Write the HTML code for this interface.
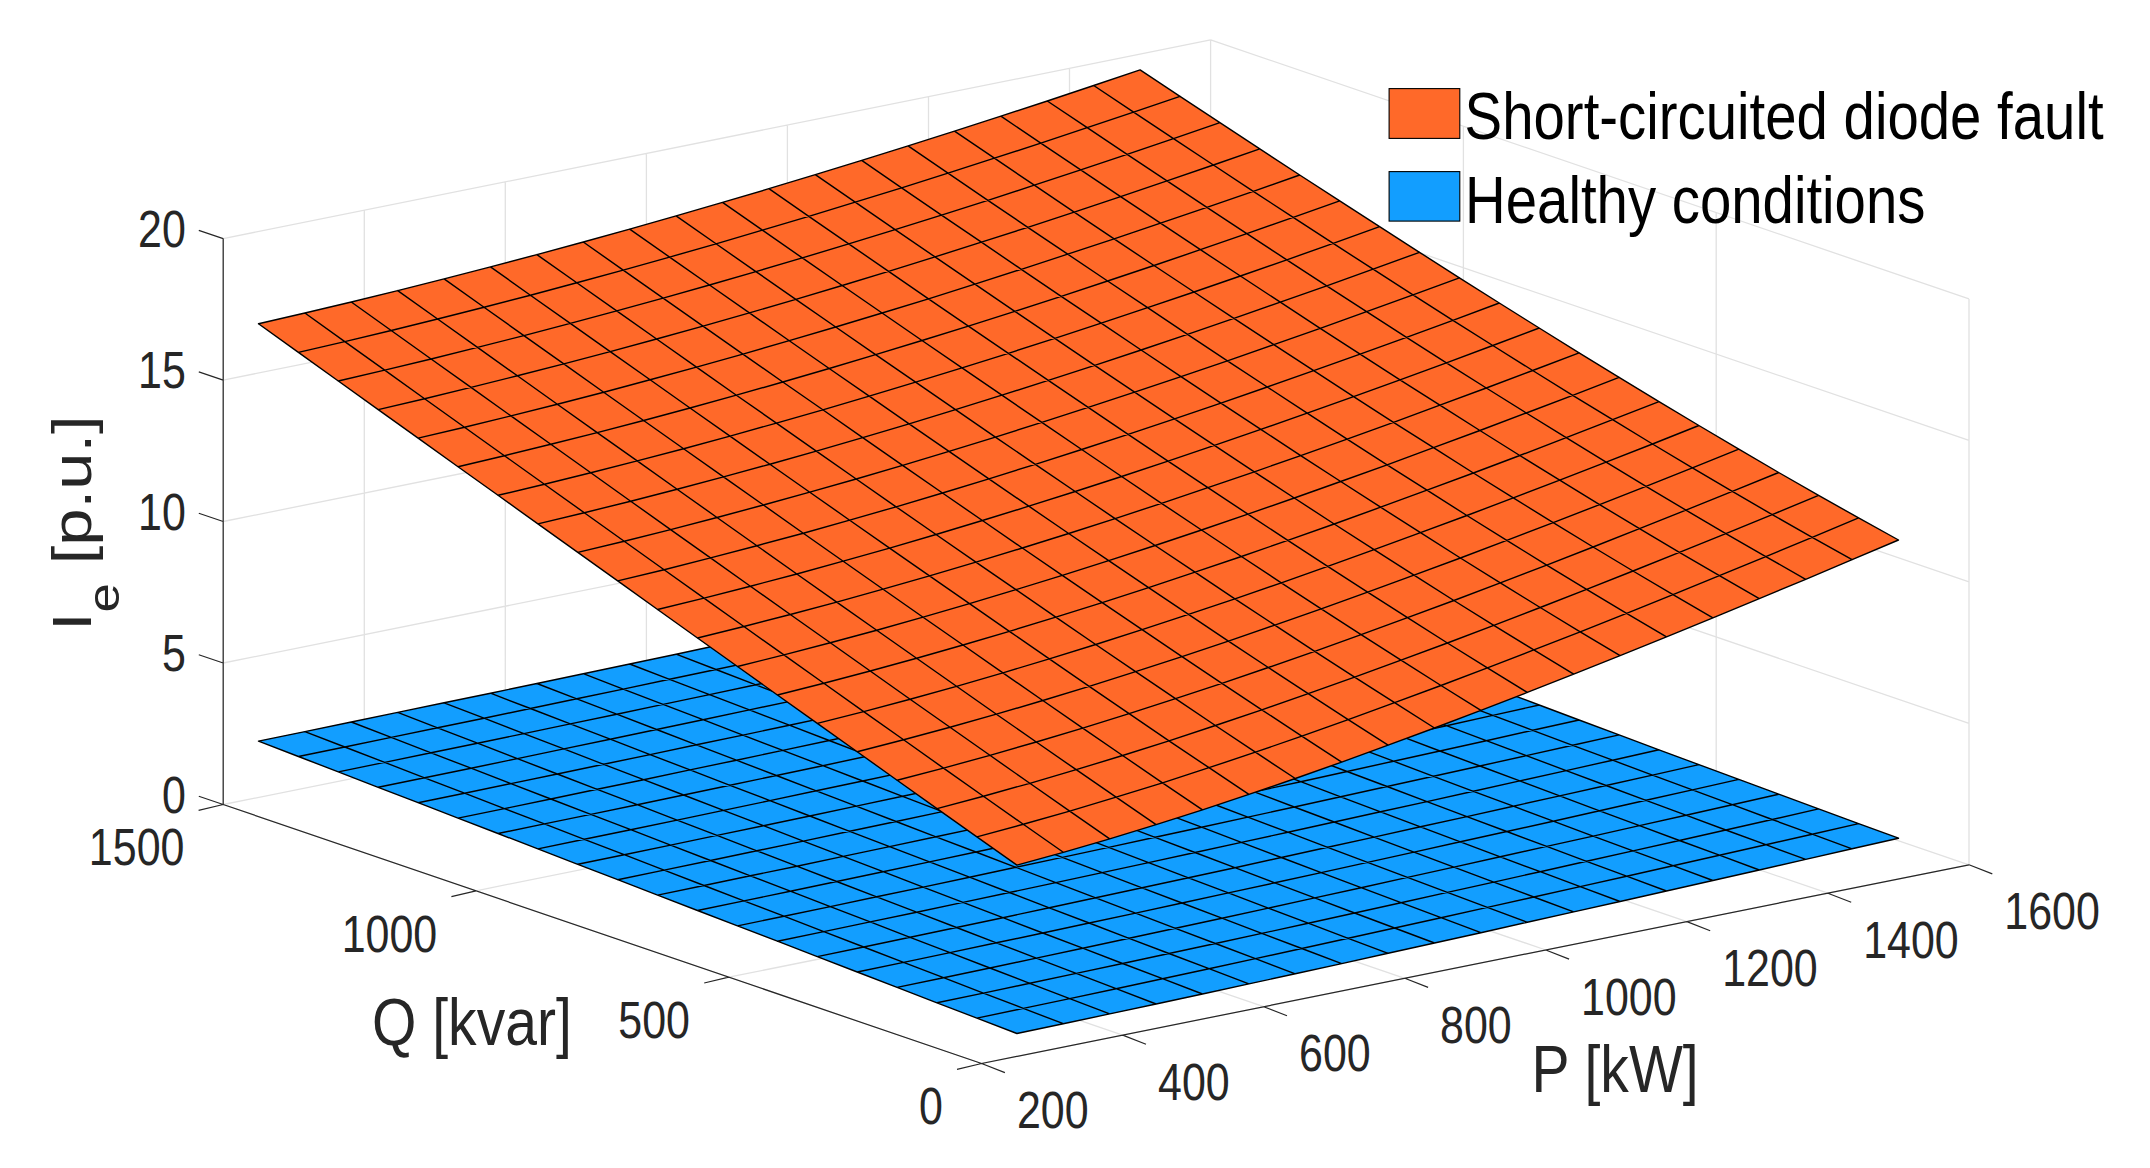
<!DOCTYPE html>
<html><head><meta charset="utf-8"><title>Excitation current surface</title>
<style>html,body{margin:0;padding:0;background:#fff}svg{display:block}</style></head>
<body>
<svg width="2150" height="1168" viewBox="0 0 2150 1168">
<rect width="2150" height="1168" fill="#fff"/>
<path d="M981.6,1063.5 L223.2,804.5 M223.2,804.5 L223.2,238.6 M1122.7,1035.1 L364.3,776.1 M364.3,776.1 L364.3,210.2 M1263.7,1006.7 L505.3,747.7 M505.3,747.7 L505.3,181.8 M1404.8,978.3 L646.4,719.3 M646.4,719.3 L646.4,153.4 M1545.8,950.0 L787.4,691.0 M787.4,691.0 L787.4,125.1 M1686.9,921.6 L928.5,662.6 M928.5,662.6 L928.5,96.7 M1827.9,893.2 L1069.5,634.2 M1069.5,634.2 L1069.5,68.3 M1969.0,864.8 L1210.6,605.8 M1210.6,605.8 L1210.6,39.9 M981.6,1063.5 L1969.0,864.8 M1969.0,864.8 L1969.0,298.9 M728.8,977.2 L1716.2,778.5 M1716.2,778.5 L1716.2,212.6 M476.0,890.8 L1463.4,692.1 M1463.4,692.1 L1463.4,126.2 M223.2,804.5 L1210.6,605.8 M223.2,663.0 L1210.6,464.3 M1210.6,464.3 L1969.0,723.3 M223.2,521.5 L1210.6,322.8 M1210.6,322.8 L1969.0,581.8 M223.2,380.1 L1210.6,181.4 M1210.6,181.4 L1969.0,440.4 M223.2,238.6 L1210.6,39.9 M1210.6,39.9 L1969.0,298.9" stroke="#e1e1e1" stroke-width="1.3" fill="none"/>
<path d="M1016.9,1033.5 L1063.3,1023.7 L1109.7,1013.9 L1156.1,1004.0 L1202.5,994.0 L1248.9,983.9 L1295.3,973.8 L1341.7,963.6 L1388.1,953.3 L1434.5,943.0 L1480.9,932.7 L1527.3,922.3 L1573.7,911.9 L1620.1,901.5 L1666.5,891.0 L1712.9,880.5 L1759.3,870.0 L1805.7,859.4 L1852.1,848.8 L1898.5,838.2 L1858.6,823.6 L1818.6,808.9 L1778.7,794.2 L1738.8,779.4 L1698.9,764.6 L1659.0,749.8 L1619.1,734.9 L1579.1,720.0 L1539.2,705.0 L1499.3,690.1 L1459.4,675.1 L1419.5,660.1 L1379.6,645.0 L1339.7,629.9 L1299.7,614.9 L1259.8,599.8 L1219.9,584.6 L1180.0,569.5 L1140.1,554.4 L1093.7,564.5 L1047.3,574.6 L1000.9,584.6 L954.5,594.6 L908.1,604.6 L861.7,614.6 L815.3,624.5 L768.9,634.4 L722.5,644.3 L676.1,654.2 L629.7,664.0 L583.3,673.7 L536.9,683.5 L490.5,693.2 L444.1,702.8 L397.7,712.4 L351.3,722.0 L304.9,731.6 L258.5,741.1 L298.4,756.5 L338.3,771.9 L378.2,787.3 L418.1,802.7 L458.0,818.1 L498.0,833.5 L537.9,848.9 L577.8,864.3 L617.7,879.7 L657.6,895.1 L697.5,910.5 L737.5,925.9 L777.4,941.2 L817.3,956.6 L857.2,972.0 L897.1,987.4 L937.0,1002.8 L976.9,1018.1 Z" fill="#129eff" stroke="none"/>
<path d="M1016.9,1033.5 L976.9,1018.1 L937.0,1002.8 L897.1,987.4 L857.2,972.0 L817.3,956.6 L777.4,941.2 L737.5,925.9 L697.5,910.5 L657.6,895.1 L617.7,879.7 L577.8,864.3 L537.9,848.9 L498.0,833.5 L458.0,818.1 L418.1,802.7 L378.2,787.3 L338.3,771.9 L298.4,756.5 L258.5,741.1 M1063.3,1023.7 L1023.3,1008.4 L983.4,993.1 L943.5,977.7 L903.6,962.4 L863.7,947.0 L823.8,931.6 L783.9,916.2 L743.9,900.9 L704.0,885.5 L664.1,870.1 L624.2,854.7 L584.3,839.3 L544.4,823.9 L504.4,808.6 L464.5,793.2 L424.6,777.8 L384.7,762.4 L344.8,747.0 L304.9,731.6 M1109.7,1013.9 L1069.7,998.6 L1029.8,983.3 L989.9,968.0 L950.0,952.6 L910.1,937.3 L870.2,921.9 L830.3,906.6 L790.3,891.2 L750.4,875.8 L710.5,860.5 L670.6,845.1 L630.7,829.7 L590.8,814.4 L550.8,799.0 L510.9,783.6 L471.0,768.2 L431.1,752.8 L391.2,737.4 L351.3,722.0 M1156.1,1004.0 L1116.1,988.7 L1076.2,973.4 L1036.3,958.1 L996.4,942.8 L956.5,927.5 L916.6,912.2 L876.7,896.8 L836.7,881.5 L796.8,866.2 L756.9,850.8 L717.0,835.4 L677.1,820.1 L637.2,804.7 L597.2,789.3 L557.3,774.0 L517.4,758.6 L477.5,743.2 L437.6,727.8 L397.7,712.4 M1202.5,994.0 L1162.5,978.7 L1122.6,963.5 L1082.7,948.2 L1042.8,933.0 L1002.9,917.7 L963.0,902.4 L923.1,887.1 L883.1,871.7 L843.2,856.4 L803.3,841.1 L763.4,825.7 L723.5,810.4 L683.6,795.0 L643.6,779.7 L603.7,764.3 L563.8,748.9 L523.9,733.6 L484.0,718.2 L444.1,702.8 M1248.9,983.9 L1209.0,968.7 L1169.0,953.5 L1129.1,938.3 L1089.2,923.0 L1049.3,907.8 L1009.4,892.5 L969.5,877.2 L929.5,861.9 L889.6,846.6 L849.7,831.3 L809.8,816.0 L769.9,800.6 L730.0,785.3 L690.0,769.9 L650.1,754.6 L610.2,739.2 L570.3,723.9 L530.4,708.5 L490.5,693.2 M1295.3,973.8 L1255.4,958.6 L1215.4,943.5 L1175.5,928.3 L1135.6,913.1 L1095.7,897.8 L1055.8,882.6 L1015.9,867.3 L975.9,852.0 L936.0,836.8 L896.1,821.5 L856.2,806.1 L816.3,790.8 L776.4,775.5 L736.4,760.2 L696.5,744.8 L656.6,729.5 L616.7,714.2 L576.8,698.8 L536.9,683.5 M1341.7,963.6 L1301.8,948.5 L1261.8,933.4 L1221.9,918.2 L1182.0,903.0 L1142.1,887.8 L1102.2,872.6 L1062.3,857.4 L1022.3,842.1 L982.4,826.9 L942.5,811.6 L902.6,796.3 L862.7,781.0 L822.8,765.7 L782.8,750.4 L742.9,735.1 L703.0,719.7 L663.1,704.4 L623.2,689.1 L583.3,673.7 M1388.1,953.3 L1348.2,938.3 L1308.2,923.2 L1268.3,908.1 L1228.4,892.9 L1188.5,877.8 L1148.6,862.6 L1108.7,847.4 L1068.7,832.1 L1028.8,816.9 L988.9,801.7 L949.0,786.4 L909.1,771.1 L869.2,755.8 L829.2,740.5 L789.3,725.2 L749.4,709.9 L709.5,694.6 L669.6,679.3 L629.7,664.0 M1434.5,943.0 L1394.6,928.0 L1354.6,913.0 L1314.7,897.9 L1274.8,882.8 L1234.9,867.7 L1195.0,852.5 L1155.1,837.3 L1115.1,822.1 L1075.2,806.9 L1035.3,791.7 L995.4,776.4 L955.5,761.2 L915.6,745.9 L875.6,730.6 L835.7,715.4 L795.8,700.1 L755.9,684.8 L716.0,669.5 L676.1,654.2 M1480.9,932.7 L1441.0,917.7 L1401.0,902.7 L1361.1,887.7 L1321.2,872.6 L1281.3,857.5 L1241.4,842.4 L1201.5,827.2 L1161.5,812.1 L1121.6,796.9 L1081.7,781.7 L1041.8,766.5 L1001.9,751.2 L962.0,736.0 L922.0,720.7 L882.1,705.5 L842.2,690.2 L802.3,674.9 L762.4,659.6 L722.5,644.3 M1527.3,922.3 L1487.4,907.4 L1447.4,892.4 L1407.5,877.4 L1367.6,862.4 L1327.7,847.3 L1287.8,832.2 L1247.9,817.1 L1207.9,802.0 L1168.0,786.8 L1128.1,771.6 L1088.2,756.4 L1048.3,741.2 L1008.4,726.0 L968.4,710.8 L928.5,695.5 L888.6,680.3 L848.7,665.0 L808.8,649.7 L768.9,634.4 M1573.7,911.9 L1533.8,897.0 L1493.8,882.1 L1453.9,867.1 L1414.0,852.1 L1374.1,837.1 L1334.2,822.0 L1294.3,807.0 L1254.3,791.8 L1214.4,776.7 L1174.5,761.6 L1134.6,746.4 L1094.7,731.2 L1054.8,716.0 L1014.8,700.8 L974.9,685.5 L935.0,670.3 L895.1,655.1 L855.2,639.8 L815.3,624.5 M1620.1,901.5 L1580.2,886.6 L1540.2,871.7 L1500.3,856.8 L1460.4,841.8 L1420.5,826.8 L1380.6,811.8 L1340.7,796.8 L1300.7,781.7 L1260.8,766.6 L1220.9,751.4 L1181.0,736.3 L1141.1,721.1 L1101.2,705.9 L1061.2,690.7 L1021.3,675.5 L981.4,660.3 L941.5,645.1 L901.6,629.8 L861.7,614.6 M1666.5,891.0 L1626.6,876.2 L1586.6,861.3 L1546.7,846.4 L1506.8,831.5 L1466.9,816.6 L1427.0,801.6 L1387.1,786.5 L1347.1,771.5 L1307.2,756.4 L1267.3,741.3 L1227.4,726.2 L1187.5,711.0 L1147.6,695.9 L1107.6,680.7 L1067.7,665.5 L1027.8,650.3 L987.9,635.1 L948.0,619.9 L908.1,604.6 M1712.9,880.5 L1673.0,865.7 L1633.0,850.9 L1593.1,836.1 L1553.2,821.2 L1513.3,806.2 L1473.4,791.3 L1433.5,776.3 L1393.5,761.2 L1353.6,746.2 L1313.7,731.1 L1273.8,716.0 L1233.9,700.9 L1194.0,685.8 L1154.0,670.6 L1114.1,655.4 L1074.2,640.3 L1034.3,625.1 L994.4,609.9 L954.5,594.6 M1759.3,870.0 L1719.4,855.2 L1679.4,840.5 L1639.5,825.6 L1599.6,810.8 L1559.7,795.9 L1519.8,780.9 L1479.9,766.0 L1439.9,751.0 L1400.0,735.9 L1360.1,720.9 L1320.2,705.8 L1280.3,690.7 L1240.4,675.6 L1200.4,660.5 L1160.5,645.3 L1120.6,630.2 L1080.7,615.0 L1040.8,599.8 L1000.9,584.6 M1805.7,859.4 L1765.8,844.7 L1725.8,830.0 L1685.9,815.2 L1646.0,800.3 L1606.1,785.5 L1566.2,770.6 L1526.3,755.6 L1486.3,740.7 L1446.4,725.7 L1406.5,710.6 L1366.6,695.6 L1326.7,680.5 L1286.8,665.4 L1246.8,650.3 L1206.9,635.2 L1167.0,620.1 L1127.1,604.9 L1087.2,589.7 L1047.3,574.6 M1852.1,848.8 L1812.2,834.2 L1772.2,819.5 L1732.3,804.7 L1692.4,789.9 L1652.5,775.1 L1612.6,760.2 L1572.7,745.3 L1532.7,730.3 L1492.8,715.4 L1452.9,700.4 L1413.0,685.3 L1373.1,670.3 L1333.2,655.2 L1293.2,640.1 L1253.3,625.0 L1213.4,609.9 L1173.5,594.8 L1133.6,579.6 L1093.7,564.5 M1898.5,838.2 L1858.6,823.6 L1818.6,808.9 L1778.7,794.2 L1738.8,779.4 L1698.9,764.6 L1659.0,749.8 L1619.1,734.9 L1579.1,720.0 L1539.2,705.0 L1499.3,690.1 L1459.4,675.1 L1419.5,660.1 L1379.6,645.0 L1339.7,629.9 L1299.7,614.9 L1259.8,599.8 L1219.9,584.6 L1180.0,569.5 L1140.1,554.4 M1016.9,1033.5 L1063.3,1023.7 L1109.7,1013.9 L1156.1,1004.0 L1202.5,994.0 L1248.9,983.9 L1295.3,973.8 L1341.7,963.6 L1388.1,953.3 L1434.5,943.0 L1480.9,932.7 L1527.3,922.3 L1573.7,911.9 L1620.1,901.5 L1666.5,891.0 L1712.9,880.5 L1759.3,870.0 L1805.7,859.4 L1852.1,848.8 L1898.5,838.2 M976.9,1018.1 L1023.3,1008.4 L1069.7,998.6 L1116.1,988.7 L1162.5,978.7 L1209.0,968.7 L1255.4,958.6 L1301.8,948.5 L1348.2,938.3 L1394.6,928.0 L1441.0,917.7 L1487.4,907.4 L1533.8,897.0 L1580.2,886.6 L1626.6,876.2 L1673.0,865.7 L1719.4,855.2 L1765.8,844.7 L1812.2,834.2 L1858.6,823.6 M937.0,1002.8 L983.4,993.1 L1029.8,983.3 L1076.2,973.4 L1122.6,963.5 L1169.0,953.5 L1215.4,943.5 L1261.8,933.4 L1308.2,923.2 L1354.6,913.0 L1401.0,902.7 L1447.4,892.4 L1493.8,882.1 L1540.2,871.7 L1586.6,861.3 L1633.0,850.9 L1679.4,840.5 L1725.8,830.0 L1772.2,819.5 L1818.6,808.9 M897.1,987.4 L943.5,977.7 L989.9,968.0 L1036.3,958.1 L1082.7,948.2 L1129.1,938.3 L1175.5,928.3 L1221.9,918.2 L1268.3,908.1 L1314.7,897.9 L1361.1,887.7 L1407.5,877.4 L1453.9,867.1 L1500.3,856.8 L1546.7,846.4 L1593.1,836.1 L1639.5,825.6 L1685.9,815.2 L1732.3,804.7 L1778.7,794.2 M857.2,972.0 L903.6,962.4 L950.0,952.6 L996.4,942.8 L1042.8,933.0 L1089.2,923.0 L1135.6,913.1 L1182.0,903.0 L1228.4,892.9 L1274.8,882.8 L1321.2,872.6 L1367.6,862.4 L1414.0,852.1 L1460.4,841.8 L1506.8,831.5 L1553.2,821.2 L1599.6,810.8 L1646.0,800.3 L1692.4,789.9 L1738.8,779.4 M817.3,956.6 L863.7,947.0 L910.1,937.3 L956.5,927.5 L1002.9,917.7 L1049.3,907.8 L1095.7,897.8 L1142.1,887.8 L1188.5,877.8 L1234.9,867.7 L1281.3,857.5 L1327.7,847.3 L1374.1,837.1 L1420.5,826.8 L1466.9,816.6 L1513.3,806.2 L1559.7,795.9 L1606.1,785.5 L1652.5,775.1 L1698.9,764.6 M777.4,941.2 L823.8,931.6 L870.2,921.9 L916.6,912.2 L963.0,902.4 L1009.4,892.5 L1055.8,882.6 L1102.2,872.6 L1148.6,862.6 L1195.0,852.5 L1241.4,842.4 L1287.8,832.2 L1334.2,822.0 L1380.6,811.8 L1427.0,801.6 L1473.4,791.3 L1519.8,780.9 L1566.2,770.6 L1612.6,760.2 L1659.0,749.8 M737.5,925.9 L783.9,916.2 L830.3,906.6 L876.7,896.8 L923.1,887.1 L969.5,877.2 L1015.9,867.3 L1062.3,857.4 L1108.7,847.4 L1155.1,837.3 L1201.5,827.2 L1247.9,817.1 L1294.3,807.0 L1340.7,796.8 L1387.1,786.5 L1433.5,776.3 L1479.9,766.0 L1526.3,755.6 L1572.7,745.3 L1619.1,734.9 M697.5,910.5 L743.9,900.9 L790.3,891.2 L836.7,881.5 L883.1,871.7 L929.5,861.9 L975.9,852.0 L1022.3,842.1 L1068.7,832.1 L1115.1,822.1 L1161.5,812.1 L1207.9,802.0 L1254.3,791.8 L1300.7,781.7 L1347.1,771.5 L1393.5,761.2 L1439.9,751.0 L1486.3,740.7 L1532.7,730.3 L1579.1,720.0 M657.6,895.1 L704.0,885.5 L750.4,875.8 L796.8,866.2 L843.2,856.4 L889.6,846.6 L936.0,836.8 L982.4,826.9 L1028.8,816.9 L1075.2,806.9 L1121.6,796.9 L1168.0,786.8 L1214.4,776.7 L1260.8,766.6 L1307.2,756.4 L1353.6,746.2 L1400.0,735.9 L1446.4,725.7 L1492.8,715.4 L1539.2,705.0 M617.7,879.7 L664.1,870.1 L710.5,860.5 L756.9,850.8 L803.3,841.1 L849.7,831.3 L896.1,821.5 L942.5,811.6 L988.9,801.7 L1035.3,791.7 L1081.7,781.7 L1128.1,771.6 L1174.5,761.6 L1220.9,751.4 L1267.3,741.3 L1313.7,731.1 L1360.1,720.9 L1406.5,710.6 L1452.9,700.4 L1499.3,690.1 M577.8,864.3 L624.2,854.7 L670.6,845.1 L717.0,835.4 L763.4,825.7 L809.8,816.0 L856.2,806.1 L902.6,796.3 L949.0,786.4 L995.4,776.4 L1041.8,766.5 L1088.2,756.4 L1134.6,746.4 L1181.0,736.3 L1227.4,726.2 L1273.8,716.0 L1320.2,705.8 L1366.6,695.6 L1413.0,685.3 L1459.4,675.1 M537.9,848.9 L584.3,839.3 L630.7,829.7 L677.1,820.1 L723.5,810.4 L769.9,800.6 L816.3,790.8 L862.7,781.0 L909.1,771.1 L955.5,761.2 L1001.9,751.2 L1048.3,741.2 L1094.7,731.2 L1141.1,721.1 L1187.5,711.0 L1233.9,700.9 L1280.3,690.7 L1326.7,680.5 L1373.1,670.3 L1419.5,660.1 M498.0,833.5 L544.4,823.9 L590.8,814.4 L637.2,804.7 L683.6,795.0 L730.0,785.3 L776.4,775.5 L822.8,765.7 L869.2,755.8 L915.6,745.9 L962.0,736.0 L1008.4,726.0 L1054.8,716.0 L1101.2,705.9 L1147.6,695.9 L1194.0,685.8 L1240.4,675.6 L1286.8,665.4 L1333.2,655.2 L1379.6,645.0 M458.0,818.1 L504.4,808.6 L550.8,799.0 L597.2,789.3 L643.6,779.7 L690.0,769.9 L736.4,760.2 L782.8,750.4 L829.2,740.5 L875.6,730.6 L922.0,720.7 L968.4,710.8 L1014.8,700.8 L1061.2,690.7 L1107.6,680.7 L1154.0,670.6 L1200.4,660.5 L1246.8,650.3 L1293.2,640.1 L1339.7,629.9 M418.1,802.7 L464.5,793.2 L510.9,783.6 L557.3,774.0 L603.7,764.3 L650.1,754.6 L696.5,744.8 L742.9,735.1 L789.3,725.2 L835.7,715.4 L882.1,705.5 L928.5,695.5 L974.9,685.5 L1021.3,675.5 L1067.7,665.5 L1114.1,655.4 L1160.5,645.3 L1206.9,635.2 L1253.3,625.0 L1299.7,614.9 M378.2,787.3 L424.6,777.8 L471.0,768.2 L517.4,758.6 L563.8,748.9 L610.2,739.2 L656.6,729.5 L703.0,719.7 L749.4,709.9 L795.8,700.1 L842.2,690.2 L888.6,680.3 L935.0,670.3 L981.4,660.3 L1027.8,650.3 L1074.2,640.3 L1120.6,630.2 L1167.0,620.1 L1213.4,609.9 L1259.8,599.8 M338.3,771.9 L384.7,762.4 L431.1,752.8 L477.5,743.2 L523.9,733.6 L570.3,723.9 L616.7,714.2 L663.1,704.4 L709.5,694.6 L755.9,684.8 L802.3,674.9 L848.7,665.0 L895.1,655.1 L941.5,645.1 L987.9,635.1 L1034.3,625.1 L1080.7,615.0 L1127.1,604.9 L1173.5,594.8 L1219.9,584.6 M298.4,756.5 L344.8,747.0 L391.2,737.4 L437.6,727.8 L484.0,718.2 L530.4,708.5 L576.8,698.8 L623.2,689.1 L669.6,679.3 L716.0,669.5 L762.4,659.6 L808.8,649.7 L855.2,639.8 L901.6,629.8 L948.0,619.9 L994.4,609.9 L1040.8,599.8 L1087.2,589.7 L1133.6,579.6 L1180.0,569.5 M258.5,741.1 L304.9,731.6 L351.3,722.0 L397.7,712.4 L444.1,702.8 L490.5,693.2 L536.9,683.5 L583.3,673.7 L629.7,664.0 L676.1,654.2 L722.5,644.3 L768.9,634.4 L815.3,624.5 L861.7,614.6 L908.1,604.6 L954.5,594.6 L1000.9,584.6 L1047.3,574.6 L1093.7,564.5 L1140.1,554.4" fill="none" stroke="#000" stroke-width="1.4" stroke-linejoin="round" stroke-linecap="round"/>
<path d="M1016.9,865.1 L1063.3,852.3 L1109.7,838.8 L1156.1,824.6 L1202.5,809.8 L1248.9,794.4 L1295.3,778.5 L1341.7,762.1 L1388.1,745.2 L1434.5,728.0 L1480.9,710.3 L1527.3,692.4 L1573.7,674.1 L1620.1,655.6 L1666.5,636.8 L1712.9,617.8 L1759.3,598.6 L1805.7,579.3 L1852.1,559.7 L1898.5,540.0 L1858.6,517.9 L1818.6,495.4 L1778.7,472.5 L1738.8,449.2 L1698.9,425.5 L1659.0,401.6 L1619.1,377.3 L1579.1,352.8 L1539.2,328.0 L1499.3,303.0 L1459.4,277.8 L1419.5,252.3 L1379.6,226.7 L1339.7,200.9 L1299.7,175.0 L1259.8,148.9 L1219.9,122.7 L1180.0,96.3 L1140.1,69.9 L1093.7,85.5 L1047.3,101.0 L1000.9,116.2 L954.5,131.2 L908.1,145.9 L861.7,160.4 L815.3,174.7 L768.9,188.7 L722.5,202.4 L676.1,215.9 L629.7,229.1 L583.3,242.0 L536.9,254.6 L490.5,266.9 L444.1,278.9 L397.7,290.6 L351.3,302.0 L304.9,313.0 L258.5,323.8 L298.4,352.4 L338.3,381.0 L378.2,409.6 L418.1,438.1 L458.0,466.7 L498.0,495.3 L537.9,523.9 L577.8,552.4 L617.7,580.9 L657.6,609.5 L697.5,638.0 L737.5,666.5 L777.4,695.0 L817.3,723.4 L857.2,751.8 L897.1,780.2 L937.0,808.6 L976.9,836.9 Z" fill="#ff6929" stroke="none"/>
<path d="M1016.9,865.1 L976.9,836.9 L937.0,808.6 L897.1,780.2 L857.2,751.8 L817.3,723.4 L777.4,695.0 L737.5,666.5 L697.5,638.0 L657.6,609.5 L617.7,580.9 L577.8,552.4 L537.9,523.9 L498.0,495.3 L458.0,466.7 L418.1,438.1 L378.2,409.6 L338.3,381.0 L298.4,352.4 L258.5,323.8 M1063.3,852.3 L1023.3,824.3 L983.4,796.2 L943.5,768.1 L903.6,739.8 L863.7,711.6 L823.8,683.2 L783.9,654.9 L743.9,626.5 L704.0,598.1 L664.1,569.7 L624.2,541.2 L584.3,512.7 L544.4,484.2 L504.4,455.7 L464.5,427.2 L424.6,398.7 L384.7,370.1 L344.8,341.6 L304.9,313.0 M1109.7,838.8 L1069.7,811.1 L1029.8,783.3 L989.9,755.3 L950.0,727.3 L910.1,699.2 L870.2,671.0 L830.3,642.8 L790.3,614.5 L750.4,586.2 L710.5,557.9 L670.6,529.6 L630.7,501.2 L590.8,472.8 L550.8,444.3 L510.9,415.9 L471.0,387.4 L431.1,359.0 L391.2,330.5 L351.3,302.0 M1156.1,824.6 L1116.1,797.2 L1076.2,769.7 L1036.3,742.0 L996.4,714.2 L956.5,686.3 L916.6,658.3 L876.7,630.2 L836.7,602.1 L796.8,574.0 L756.9,545.7 L717.0,517.5 L677.1,489.2 L637.2,460.9 L597.2,432.6 L557.3,404.2 L517.4,375.8 L477.5,347.4 L437.6,319.0 L397.7,290.6 M1202.5,809.8 L1162.5,782.8 L1122.6,755.5 L1082.7,728.1 L1042.8,700.5 L1002.9,672.8 L963.0,645.0 L923.1,617.2 L883.1,589.2 L843.2,561.2 L803.3,533.2 L763.4,505.0 L723.5,476.9 L683.6,448.7 L643.6,420.5 L603.7,392.2 L563.8,363.9 L523.9,335.6 L484.0,307.2 L444.1,278.9 M1248.9,794.4 L1209.0,767.7 L1169.0,740.8 L1129.1,713.6 L1089.2,686.3 L1049.3,658.9 L1009.4,631.3 L969.5,603.7 L929.5,575.9 L889.6,548.1 L849.7,520.2 L809.8,492.2 L769.9,464.2 L730.0,436.1 L690.0,408.0 L650.1,379.8 L610.2,351.6 L570.3,323.4 L530.4,295.2 L490.5,266.9 M1295.3,778.5 L1255.4,752.2 L1215.4,725.5 L1175.5,698.7 L1135.6,671.7 L1095.7,644.5 L1055.8,617.2 L1015.9,589.7 L975.9,562.2 L936.0,534.5 L896.1,506.8 L856.2,479.0 L816.3,451.1 L776.4,423.1 L736.4,395.2 L696.5,367.1 L656.6,339.0 L616.7,310.9 L576.8,282.8 L536.9,254.6 M1341.7,762.1 L1301.8,736.1 L1261.8,709.8 L1221.9,683.3 L1182.0,656.6 L1142.1,629.7 L1102.2,602.6 L1062.3,575.4 L1022.3,548.0 L982.4,520.5 L942.5,493.0 L902.6,465.3 L862.7,437.6 L822.8,409.8 L782.8,382.0 L742.9,354.1 L703.0,326.1 L663.1,298.1 L623.2,270.1 L583.3,242.0 M1388.1,745.2 L1348.2,719.6 L1308.2,693.7 L1268.3,667.5 L1228.4,641.1 L1188.5,614.4 L1148.6,587.6 L1108.7,560.6 L1068.7,533.5 L1028.8,506.2 L988.9,478.8 L949.0,451.4 L909.1,423.8 L869.2,396.2 L829.2,368.5 L789.3,340.7 L749.4,312.9 L709.5,285.0 L669.6,257.1 L629.7,229.1 M1434.5,728.0 L1394.6,702.7 L1354.6,677.2 L1314.7,651.3 L1274.8,625.1 L1234.9,598.8 L1195.0,572.2 L1155.1,545.5 L1115.1,518.6 L1075.2,491.5 L1035.3,464.3 L995.4,437.1 L955.5,409.7 L915.6,382.2 L875.6,354.7 L835.7,327.0 L795.8,299.3 L755.9,271.6 L716.0,243.8 L676.1,215.9 M1480.9,710.3 L1441.0,685.5 L1401.0,660.2 L1361.1,634.7 L1321.2,608.8 L1281.3,582.8 L1241.4,556.5 L1201.5,530.0 L1161.5,503.3 L1121.6,476.5 L1081.7,449.5 L1041.8,422.4 L1001.9,395.2 L962.0,367.9 L922.0,340.5 L882.1,313.0 L842.2,285.5 L802.3,257.9 L762.4,230.2 L722.5,202.4 M1527.3,692.4 L1487.4,667.9 L1447.4,643.0 L1407.5,617.7 L1367.6,592.2 L1327.7,566.4 L1287.8,540.4 L1247.9,514.1 L1207.9,487.7 L1168.0,461.1 L1128.1,434.3 L1088.2,407.4 L1048.3,380.4 L1008.4,353.3 L968.4,326.1 L928.5,298.8 L888.6,271.3 L848.7,243.9 L808.8,216.3 L768.9,188.7 M1573.7,674.1 L1533.8,649.9 L1493.8,625.4 L1453.9,600.5 L1414.0,575.2 L1374.1,549.7 L1334.2,524.0 L1294.3,498.0 L1254.3,471.8 L1214.4,445.4 L1174.5,418.9 L1134.6,392.2 L1094.7,365.3 L1054.8,338.4 L1014.8,311.3 L974.9,284.2 L935.0,256.9 L895.1,229.6 L855.2,202.2 L815.3,174.7 M1620.1,655.6 L1580.2,631.8 L1540.2,607.5 L1500.3,582.9 L1460.4,558.0 L1420.5,532.7 L1380.6,507.2 L1340.7,481.5 L1300.7,455.6 L1260.8,429.4 L1220.9,403.1 L1181.0,376.6 L1141.1,350.0 L1101.2,323.2 L1061.2,296.3 L1021.3,269.3 L981.4,242.2 L941.5,215.1 L901.6,187.8 L861.7,160.4 M1666.5,636.8 L1626.6,613.3 L1586.6,589.4 L1546.7,565.1 L1506.8,540.4 L1466.9,515.5 L1427.0,490.2 L1387.1,464.8 L1347.1,439.1 L1307.2,413.1 L1267.3,387.0 L1227.4,360.8 L1187.5,334.3 L1147.6,307.7 L1107.6,281.0 L1067.7,254.2 L1027.8,227.3 L987.9,200.3 L948.0,173.1 L908.1,145.9 M1712.9,617.8 L1673.0,594.6 L1633.0,571.0 L1593.1,547.0 L1553.2,522.6 L1513.3,497.9 L1473.4,473.0 L1433.5,447.7 L1393.5,422.3 L1353.6,396.6 L1313.7,370.7 L1273.8,344.6 L1233.9,318.4 L1194.0,292.0 L1154.0,265.5 L1114.1,238.9 L1074.2,212.1 L1034.3,185.2 L994.4,158.2 L954.5,131.2 M1759.3,598.6 L1719.4,575.7 L1679.4,552.4 L1639.5,528.7 L1599.6,504.6 L1559.7,480.2 L1519.8,455.5 L1479.9,430.5 L1439.9,405.2 L1400.0,379.8 L1360.1,354.1 L1320.2,328.3 L1280.3,302.2 L1240.4,276.0 L1200.4,249.7 L1160.5,223.2 L1120.6,196.6 L1080.7,169.9 L1040.8,143.1 L1000.9,116.2 M1805.7,579.3 L1765.8,556.6 L1725.8,533.6 L1685.9,510.1 L1646.0,486.3 L1606.1,462.2 L1566.2,437.7 L1526.3,413.0 L1486.3,388.0 L1446.4,362.8 L1406.5,337.3 L1366.6,311.7 L1326.7,285.8 L1286.8,259.8 L1246.8,233.7 L1206.9,207.4 L1167.0,180.9 L1127.1,154.4 L1087.2,127.7 L1047.3,101.0 M1852.1,559.7 L1812.2,537.4 L1772.2,514.6 L1732.3,491.4 L1692.4,467.8 L1652.5,444.0 L1612.6,419.7 L1572.7,395.3 L1532.7,370.5 L1492.8,345.5 L1452.9,320.3 L1413.0,294.8 L1373.1,269.2 L1333.2,243.4 L1293.2,217.4 L1253.3,191.3 L1213.4,165.0 L1173.5,138.6 L1133.6,112.1 L1093.7,85.5 M1898.5,540.0 L1858.6,517.9 L1818.6,495.4 L1778.7,472.5 L1738.8,449.2 L1698.9,425.5 L1659.0,401.6 L1619.1,377.3 L1579.1,352.8 L1539.2,328.0 L1499.3,303.0 L1459.4,277.8 L1419.5,252.3 L1379.6,226.7 L1339.7,200.9 L1299.7,175.0 L1259.8,148.9 L1219.9,122.7 L1180.0,96.3 L1140.1,69.9 M1016.9,865.1 L1063.3,852.3 L1109.7,838.8 L1156.1,824.6 L1202.5,809.8 L1248.9,794.4 L1295.3,778.5 L1341.7,762.1 L1388.1,745.2 L1434.5,728.0 L1480.9,710.3 L1527.3,692.4 L1573.7,674.1 L1620.1,655.6 L1666.5,636.8 L1712.9,617.8 L1759.3,598.6 L1805.7,579.3 L1852.1,559.7 L1898.5,540.0 M976.9,836.9 L1023.3,824.3 L1069.7,811.1 L1116.1,797.2 L1162.5,782.8 L1209.0,767.7 L1255.4,752.2 L1301.8,736.1 L1348.2,719.6 L1394.6,702.7 L1441.0,685.5 L1487.4,667.9 L1533.8,649.9 L1580.2,631.8 L1626.6,613.3 L1673.0,594.6 L1719.4,575.7 L1765.8,556.6 L1812.2,537.4 L1858.6,517.9 M937.0,808.6 L983.4,796.2 L1029.8,783.3 L1076.2,769.7 L1122.6,755.5 L1169.0,740.8 L1215.4,725.5 L1261.8,709.8 L1308.2,693.7 L1354.6,677.2 L1401.0,660.2 L1447.4,643.0 L1493.8,625.4 L1540.2,607.5 L1586.6,589.4 L1633.0,571.0 L1679.4,552.4 L1725.8,533.6 L1772.2,514.6 L1818.6,495.4 M897.1,780.2 L943.5,768.1 L989.9,755.3 L1036.3,742.0 L1082.7,728.1 L1129.1,713.6 L1175.5,698.7 L1221.9,683.3 L1268.3,667.5 L1314.7,651.3 L1361.1,634.7 L1407.5,617.7 L1453.9,600.5 L1500.3,582.9 L1546.7,565.1 L1593.1,547.0 L1639.5,528.7 L1685.9,510.1 L1732.3,491.4 L1778.7,472.5 M857.2,751.8 L903.6,739.8 L950.0,727.3 L996.4,714.2 L1042.8,700.5 L1089.2,686.3 L1135.6,671.7 L1182.0,656.6 L1228.4,641.1 L1274.8,625.1 L1321.2,608.8 L1367.6,592.2 L1414.0,575.2 L1460.4,558.0 L1506.8,540.4 L1553.2,522.6 L1599.6,504.6 L1646.0,486.3 L1692.4,467.8 L1738.8,449.2 M817.3,723.4 L863.7,711.6 L910.1,699.2 L956.5,686.3 L1002.9,672.8 L1049.3,658.9 L1095.7,644.5 L1142.1,629.7 L1188.5,614.4 L1234.9,598.8 L1281.3,582.8 L1327.7,566.4 L1374.1,549.7 L1420.5,532.7 L1466.9,515.5 L1513.3,497.9 L1559.7,480.2 L1606.1,462.2 L1652.5,444.0 L1698.9,425.5 M777.4,695.0 L823.8,683.2 L870.2,671.0 L916.6,658.3 L963.0,645.0 L1009.4,631.3 L1055.8,617.2 L1102.2,602.6 L1148.6,587.6 L1195.0,572.2 L1241.4,556.5 L1287.8,540.4 L1334.2,524.0 L1380.6,507.2 L1427.0,490.2 L1473.4,473.0 L1519.8,455.5 L1566.2,437.7 L1612.6,419.7 L1659.0,401.6 M737.5,666.5 L783.9,654.9 L830.3,642.8 L876.7,630.2 L923.1,617.2 L969.5,603.7 L1015.9,589.7 L1062.3,575.4 L1108.7,560.6 L1155.1,545.5 L1201.5,530.0 L1247.9,514.1 L1294.3,498.0 L1340.7,481.5 L1387.1,464.8 L1433.5,447.7 L1479.9,430.5 L1526.3,413.0 L1572.7,395.3 L1619.1,377.3 M697.5,638.0 L743.9,626.5 L790.3,614.5 L836.7,602.1 L883.1,589.2 L929.5,575.9 L975.9,562.2 L1022.3,548.0 L1068.7,533.5 L1115.1,518.6 L1161.5,503.3 L1207.9,487.7 L1254.3,471.8 L1300.7,455.6 L1347.1,439.1 L1393.5,422.3 L1439.9,405.2 L1486.3,388.0 L1532.7,370.5 L1579.1,352.8 M657.6,609.5 L704.0,598.1 L750.4,586.2 L796.8,574.0 L843.2,561.2 L889.6,548.1 L936.0,534.5 L982.4,520.5 L1028.8,506.2 L1075.2,491.5 L1121.6,476.5 L1168.0,461.1 L1214.4,445.4 L1260.8,429.4 L1307.2,413.1 L1353.6,396.6 L1400.0,379.8 L1446.4,362.8 L1492.8,345.5 L1539.2,328.0 M617.7,580.9 L664.1,569.7 L710.5,557.9 L756.9,545.7 L803.3,533.2 L849.7,520.2 L896.1,506.8 L942.5,493.0 L988.9,478.8 L1035.3,464.3 L1081.7,449.5 L1128.1,434.3 L1174.5,418.9 L1220.9,403.1 L1267.3,387.0 L1313.7,370.7 L1360.1,354.1 L1406.5,337.3 L1452.9,320.3 L1499.3,303.0 M577.8,552.4 L624.2,541.2 L670.6,529.6 L717.0,517.5 L763.4,505.0 L809.8,492.2 L856.2,479.0 L902.6,465.3 L949.0,451.4 L995.4,437.1 L1041.8,422.4 L1088.2,407.4 L1134.6,392.2 L1181.0,376.6 L1227.4,360.8 L1273.8,344.6 L1320.2,328.3 L1366.6,311.7 L1413.0,294.8 L1459.4,277.8 M537.9,523.9 L584.3,512.7 L630.7,501.2 L677.1,489.2 L723.5,476.9 L769.9,464.2 L816.3,451.1 L862.7,437.6 L909.1,423.8 L955.5,409.7 L1001.9,395.2 L1048.3,380.4 L1094.7,365.3 L1141.1,350.0 L1187.5,334.3 L1233.9,318.4 L1280.3,302.2 L1326.7,285.8 L1373.1,269.2 L1419.5,252.3 M498.0,495.3 L544.4,484.2 L590.8,472.8 L637.2,460.9 L683.6,448.7 L730.0,436.1 L776.4,423.1 L822.8,409.8 L869.2,396.2 L915.6,382.2 L962.0,367.9 L1008.4,353.3 L1054.8,338.4 L1101.2,323.2 L1147.6,307.7 L1194.0,292.0 L1240.4,276.0 L1286.8,259.8 L1333.2,243.4 L1379.6,226.7 M458.0,466.7 L504.4,455.7 L550.8,444.3 L597.2,432.6 L643.6,420.5 L690.0,408.0 L736.4,395.2 L782.8,382.0 L829.2,368.5 L875.6,354.7 L922.0,340.5 L968.4,326.1 L1014.8,311.3 L1061.2,296.3 L1107.6,281.0 L1154.0,265.5 L1200.4,249.7 L1246.8,233.7 L1293.2,217.4 L1339.7,200.9 M418.1,438.1 L464.5,427.2 L510.9,415.9 L557.3,404.2 L603.7,392.2 L650.1,379.8 L696.5,367.1 L742.9,354.1 L789.3,340.7 L835.7,327.0 L882.1,313.0 L928.5,298.8 L974.9,284.2 L1021.3,269.3 L1067.7,254.2 L1114.1,238.9 L1160.5,223.2 L1206.9,207.4 L1253.3,191.3 L1299.7,175.0 M378.2,409.6 L424.6,398.7 L471.0,387.4 L517.4,375.8 L563.8,363.9 L610.2,351.6 L656.6,339.0 L703.0,326.1 L749.4,312.9 L795.8,299.3 L842.2,285.5 L888.6,271.3 L935.0,256.9 L981.4,242.2 L1027.8,227.3 L1074.2,212.1 L1120.6,196.6 L1167.0,180.9 L1213.4,165.0 L1259.8,148.9 M338.3,381.0 L384.7,370.1 L431.1,359.0 L477.5,347.4 L523.9,335.6 L570.3,323.4 L616.7,310.9 L663.1,298.1 L709.5,285.0 L755.9,271.6 L802.3,257.9 L848.7,243.9 L895.1,229.6 L941.5,215.1 L987.9,200.3 L1034.3,185.2 L1080.7,169.9 L1127.1,154.4 L1173.5,138.6 L1219.9,122.7 M298.4,352.4 L344.8,341.6 L391.2,330.5 L437.6,319.0 L484.0,307.2 L530.4,295.2 L576.8,282.8 L623.2,270.1 L669.6,257.1 L716.0,243.8 L762.4,230.2 L808.8,216.3 L855.2,202.2 L901.6,187.8 L948.0,173.1 L994.4,158.2 L1040.8,143.1 L1087.2,127.7 L1133.6,112.1 L1180.0,96.3 M258.5,323.8 L304.9,313.0 L351.3,302.0 L397.7,290.6 L444.1,278.9 L490.5,266.9 L536.9,254.6 L583.3,242.0 L629.7,229.1 L676.1,215.9 L722.5,202.4 L768.9,188.7 L815.3,174.7 L861.7,160.4 L908.1,145.9 L954.5,131.2 L1000.9,116.2 L1047.3,101.0 L1093.7,85.5 L1140.1,69.9" fill="none" stroke="#000" stroke-width="1.4" stroke-linejoin="round" stroke-linecap="round"/>
<path d="M223.2,804.5 L223.2,238.6 M223.2,804.5 L981.6,1063.5 M981.6,1063.5 L1969.0,864.8 M223.2,804.5 L198.8,796.3 M223.2,663.0 L198.8,654.8 M223.2,521.5 L198.8,513.3 M223.2,380.1 L198.8,371.9 M223.2,238.6 L198.8,230.4 M981.6,1063.5 L957.0,1069.3 M728.8,977.2 L704.2,983.0 M476.0,890.8 L451.4,896.6 M223.2,804.5 L198.6,810.3 M981.6,1063.5 L1004.9,1072.6 M1122.7,1035.1 L1146.0,1044.2 M1263.7,1006.7 L1287.0,1015.8 M1404.8,978.3 L1428.1,987.4 M1545.8,950.0 L1569.1,959.1 M1686.9,921.6 L1710.2,930.7 M1827.9,893.2 L1851.2,902.3 M1969.0,864.8 L1992.3,873.9" stroke="#262626" stroke-width="1.2" fill="none"/>
<g font-family="'Liberation Sans', Arial, sans-serif" fill="#262626"><text transform="translate(185.8,812.6) scale(0.844,1)" font-size="50.90" text-anchor="end">0</text><text transform="translate(185.8,671.1) scale(0.844,1)" font-size="50.90" text-anchor="end">5</text><text transform="translate(185.8,529.6) scale(0.844,1)" font-size="50.90" text-anchor="end">10</text><text transform="translate(185.8,388.1) scale(0.844,1)" font-size="50.90" text-anchor="end">15</text><text transform="translate(185.8,246.7) scale(0.844,1)" font-size="50.90" text-anchor="end">20</text><text transform="translate(942.8,1124.4) scale(0.844,1)" font-size="50.90" text-anchor="end">0</text><text transform="translate(690.0,1038.1) scale(0.844,1)" font-size="50.90" text-anchor="end">500</text><text transform="translate(437.2,951.8) scale(0.844,1)" font-size="50.90" text-anchor="end">1000</text><text transform="translate(184.4,865.4) scale(0.844,1)" font-size="50.90" text-anchor="end">1500</text><text transform="translate(1016.9,1128.1) scale(0.844,1)" font-size="50.90" text-anchor="start">200</text><text transform="translate(1158.0,1099.7) scale(0.844,1)" font-size="50.90" text-anchor="start">400</text><text transform="translate(1299.0,1071.3) scale(0.844,1)" font-size="50.90" text-anchor="start">600</text><text transform="translate(1440.1,1043.0) scale(0.844,1)" font-size="50.90" text-anchor="start">800</text><text transform="translate(1581.1,1014.6) scale(0.844,1)" font-size="50.90" text-anchor="start">1000</text><text transform="translate(1722.2,986.2) scale(0.844,1)" font-size="50.90" text-anchor="start">1200</text><text transform="translate(1863.2,957.8) scale(0.844,1)" font-size="50.90" text-anchor="start">1400</text><text transform="translate(2004.3,929.4) scale(0.844,1)" font-size="50.90" text-anchor="start">1600</text><text transform="translate(372.0,1045.3) scale(0.865,1)" font-size="66.00" text-anchor="start">Q [kvar]</text><text transform="translate(1531.6,1092.0) scale(0.865,1)" font-size="66.00" text-anchor="start">P [kW]</text><text transform="translate(90.6,631) scale(0.823,1) rotate(-90)" font-size="67">I<tspan font-size="53" dy="35">e</tspan><tspan dy="-35"> [p.u.]</tspan></text></g>
<rect x="1389.1" y="88.6" width="70.7" height="49.8" fill="#ff6929" stroke="#000" stroke-width="1.1"/>
<rect x="1389.1" y="171.6" width="70.7" height="49.5" fill="#129eff" stroke="#000" stroke-width="1.1"/>
<g font-family="'Liberation Sans', Arial, sans-serif" fill="#000">
<text transform="translate(1464.6,139.2) scale(0.854,1)" font-size="66.00">Short-circuited diode fault</text>
<text transform="translate(1465.0,223.3) scale(0.854,1)" font-size="66.00">Healthy conditions</text>
</g>
</svg>
</body></html>
